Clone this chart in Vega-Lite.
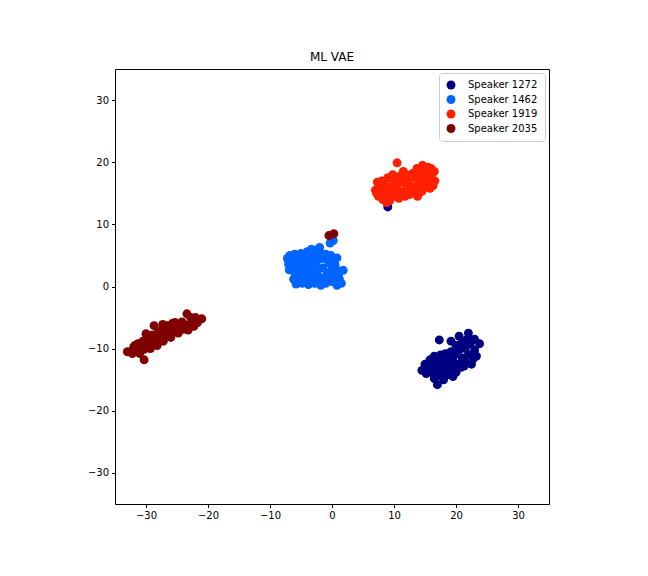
{
  "$schema": "https://vega.github.io/schema/vega-lite/v6.json",
  "autosize": "none",
  "padding": {"top": 69, "left": 115, "right": 99, "bottom": 72},
  "width": 434,
  "height": 435,
  "title": {"text": "ML VAE", "fontSize": 12, "fontWeight": "normal", "font": "DejaVu Sans", "color": "black", "offset": 5},
  "config": {
    "view": {"stroke": "black", "strokeWidth": 1},
    "axis": {"grid": false, "domain": false, "tickColor": "black", "tickSize": 3.5, "labelFont": "DejaVu Sans", "labelFontSize": 10, "labelColor": "black", "labelPadding": 3, "title": null},
    "legend": {"labelFont": "DejaVu Sans", "labelFontSize": 10, "labelColor": "black"},
    "font": "DejaVu Sans"
  },
  "data": {"values": [
    {"s":"Speaker 1272","x":14.5,"y":-13.5},{"s":"Speaker 1272","x":15,"y":-12.5},{"s":"Speaker 1272","x":15.2,"y":-14},{"s":"Speaker 1272","x":15.5,"y":-13},{"s":"Speaker 1272","x":15.8,"y":-11.8},{"s":"Speaker 1272","x":16,"y":-13.8},{"s":"Speaker 1272","x":16.2,"y":-12.5},{"s":"Speaker 1272","x":16.5,"y":-14.8},{"s":"Speaker 1272","x":16.5,"y":-11.2},{"s":"Speaker 1272","x":16.8,"y":-13.2},{"s":"Speaker 1272","x":17,"y":-15.8},{"s":"Speaker 1272","x":17,"y":-12},{"s":"Speaker 1272","x":17.3,"y":-8.6},{"s":"Speaker 1272","x":17.3,"y":-14.2},{"s":"Speaker 1272","x":17.5,"y":-11},{"s":"Speaker 1272","x":17.8,"y":-13},{"s":"Speaker 1272","x":18,"y":-15},{"s":"Speaker 1272","x":18,"y":-12.2},{"s":"Speaker 1272","x":18.3,"y":-10.8},{"s":"Speaker 1272","x":18.5,"y":-14.2},{"s":"Speaker 1272","x":18.5,"y":-12.8},{"s":"Speaker 1272","x":18.8,"y":-11.5},{"s":"Speaker 1272","x":19,"y":-13.5},{"s":"Speaker 1272","x":19.2,"y":-10.5},{"s":"Speaker 1272","x":19.2,"y":-8.8},{"s":"Speaker 1272","x":19.5,"y":-14.5},{"s":"Speaker 1272","x":19.5,"y":-12},{"s":"Speaker 1272","x":19.8,"y":-11},{"s":"Speaker 1272","x":20,"y":-13.8},{"s":"Speaker 1272","x":20,"y":-9.5},{"s":"Speaker 1272","x":20.3,"y":-12.5},{"s":"Speaker 1272","x":20.5,"y":-8},{"s":"Speaker 1272","x":20.5,"y":-10.2},{"s":"Speaker 1272","x":20.8,"y":-13},{"s":"Speaker 1272","x":21,"y":-11.5},{"s":"Speaker 1272","x":21,"y":-9},{"s":"Speaker 1272","x":21.5,"y":-12.2},{"s":"Speaker 1272","x":21.5,"y":-10},{"s":"Speaker 1272","x":21.8,"y":-8.5},{"s":"Speaker 1272","x":22,"y":-7.5},{"s":"Speaker 1272","x":22,"y":-11},{"s":"Speaker 1272","x":22.3,"y":-9.2},{"s":"Speaker 1272","x":22.5,"y":-12.5},{"s":"Speaker 1272","x":23,"y":-10.2},{"s":"Speaker 1272","x":23,"y":-8.5},{"s":"Speaker 1272","x":23.3,"y":-11.2},{"s":"Speaker 1272","x":23.8,"y":-9.2},{"s":"Speaker 1272","x":16,"y":-12},{"s":"Speaker 1272","x":18.2,"y":-13.5},{"s":"Speaker 1272","x":19.8,"y":-13},{"s":"Speaker 1272","x":17.5,"y":-12.8},{"s":"Speaker 1272","x":16.8,"y":-14.5},{"s":"Speaker 1272","x":21.3,"y":-12.8},{"s":"Speaker 1272","x":22.8,"y":-11.6},{"s":"Speaker 1272","x":9,"y":12.8},
    {"s":"Speaker 1462","x":-7.2,"y":4.5},{"s":"Speaker 1462","x":-7,"y":3.6},{"s":"Speaker 1462","x":-6.8,"y":5},{"s":"Speaker 1462","x":-6.5,"y":4.2},{"s":"Speaker 1462","x":-6.3,"y":3},{"s":"Speaker 1462","x":-6,"y":5.2},{"s":"Speaker 1462","x":-6,"y":2.2},{"s":"Speaker 1462","x":-5.8,"y":3.8},{"s":"Speaker 1462","x":-5.5,"y":1.5},{"s":"Speaker 1462","x":-5.5,"y":4.6},{"s":"Speaker 1462","x":-5.8,"y":0.4},{"s":"Speaker 1462","x":-5.2,"y":2.8},{"s":"Speaker 1462","x":-5,"y":5.3},{"s":"Speaker 1462","x":-5,"y":0.7},{"s":"Speaker 1462","x":-4.8,"y":3.5},{"s":"Speaker 1462","x":-4.5,"y":2},{"s":"Speaker 1462","x":-4.5,"y":4.8},{"s":"Speaker 1462","x":-4.2,"y":1},{"s":"Speaker 1462","x":-4,"y":3},{"s":"Speaker 1462","x":-4,"y":5.6},{"s":"Speaker 1462","x":-3.8,"y":0.3},{"s":"Speaker 1462","x":-3.5,"y":4.2},{"s":"Speaker 1462","x":-3.5,"y":2.2},{"s":"Speaker 1462","x":-3.2,"y":1.2},{"s":"Speaker 1462","x":-3,"y":5},{"s":"Speaker 1462","x":-3,"y":3.2},{"s":"Speaker 1462","x":-2.8,"y":0.5},{"s":"Speaker 1462","x":-2.5,"y":4},{"s":"Speaker 1462","x":-2.5,"y":5.8},{"s":"Speaker 1462","x":-2.2,"y":2.8},{"s":"Speaker 1462","x":-2,"y":1.5},{"s":"Speaker 1462","x":-2,"y":6.3},{"s":"Speaker 1462","x":-1.8,"y":0.2},{"s":"Speaker 1462","x":-1.5,"y":4.5},{"s":"Speaker 1462","x":-1.5,"y":3},{"s":"Speaker 1462","x":-1.2,"y":1.2},{"s":"Speaker 1462","x":-1,"y":5.2},{"s":"Speaker 1462","x":-1,"y":0.5},{"s":"Speaker 1462","x":-0.8,"y":2.2},{"s":"Speaker 1462","x":-0.5,"y":3.8},{"s":"Speaker 1462","x":-0.5,"y":1.5},{"s":"Speaker 1462","x":-0.3,"y":7},{"s":"Speaker 1462","x":0,"y":4.5},{"s":"Speaker 1462","x":0,"y":2.8},{"s":"Speaker 1462","x":0,"y":0.8},{"s":"Speaker 1462","x":0.3,"y":1.8},{"s":"Speaker 1462","x":0.5,"y":3.5},{"s":"Speaker 1462","x":0.8,"y":0.2},{"s":"Speaker 1462","x":1,"y":2.5},{"s":"Speaker 1462","x":1.2,"y":1.2},{"s":"Speaker 1462","x":1.5,"y":0.5},{"s":"Speaker 1462","x":1.8,"y":2.6},{"s":"Speaker 1462","x":-6.2,"y":1.2},{"s":"Speaker 1462","x":-4.8,"y":0.5},{"s":"Speaker 1462","x":-3.3,"y":6},{"s":"Speaker 1462","x":-2.8,"y":2},{"s":"Speaker 1462","x":-1.7,"y":5.3},{"s":"Speaker 1462","x":-0.2,"y":5},{"s":"Speaker 1462","x":0.8,"y":4.6},{"s":"Speaker 1462","x":1,"y":1.8},{"s":"Speaker 1462","x":0.2,"y":7.4},{"s":"Speaker 1462","x":-6.9,"y":2.7},{"s":"Speaker 1462","x":-3.7,"y":3.8},{"s":"Speaker 1462","x":-2.3,"y":4.8},{"s":"Speaker 1462","x":-5.3,"y":3.2},{"s":"Speaker 1462","x":-4.3,"y":4},
    {"s":"Speaker 1919","x":7,"y":15.5},{"s":"Speaker 1919","x":7.3,"y":16.8},{"s":"Speaker 1919","x":7.5,"y":14.5},{"s":"Speaker 1919","x":7.8,"y":15.8},{"s":"Speaker 1919","x":8,"y":17},{"s":"Speaker 1919","x":8.2,"y":14},{"s":"Speaker 1919","x":8.5,"y":15.2},{"s":"Speaker 1919","x":8.5,"y":16.5},{"s":"Speaker 1919","x":8.8,"y":13.5},{"s":"Speaker 1919","x":9,"y":17.5},{"s":"Speaker 1919","x":9.2,"y":14.8},{"s":"Speaker 1919","x":9.5,"y":16},{"s":"Speaker 1919","x":9.8,"y":18},{"s":"Speaker 1919","x":10,"y":14.5},{"s":"Speaker 1919","x":10,"y":17},{"s":"Speaker 1919","x":10.3,"y":15.5},{"s":"Speaker 1919","x":10.5,"y":19.9},{"s":"Speaker 1919","x":10.6,"y":16.4},{"s":"Speaker 1919","x":10.8,"y":14.2},{"s":"Speaker 1919","x":11,"y":17.8},{"s":"Speaker 1919","x":11.2,"y":15.2},{"s":"Speaker 1919","x":11.5,"y":16.8},{"s":"Speaker 1919","x":11.8,"y":14.5},{"s":"Speaker 1919","x":12,"y":18},{"s":"Speaker 1919","x":12,"y":15.8},{"s":"Speaker 1919","x":12.3,"y":17},{"s":"Speaker 1919","x":12.5,"y":14.8},{"s":"Speaker 1919","x":12.8,"y":16.2},{"s":"Speaker 1919","x":13,"y":18.2},{"s":"Speaker 1919","x":13.2,"y":15.5},{"s":"Speaker 1919","x":13.5,"y":17.5},{"s":"Speaker 1919","x":13.8,"y":14.5},{"s":"Speaker 1919","x":14,"y":16.5},{"s":"Speaker 1919","x":14.2,"y":18.5},{"s":"Speaker 1919","x":14.5,"y":15.3},{"s":"Speaker 1919","x":14.6,"y":19.5},{"s":"Speaker 1919","x":14.8,"y":17.2},{"s":"Speaker 1919","x":15,"y":16},{"s":"Speaker 1919","x":15.2,"y":18.3},{"s":"Speaker 1919","x":15.5,"y":19.2},{"s":"Speaker 1919","x":15.5,"y":16.8},{"s":"Speaker 1919","x":15.8,"y":15.8},{"s":"Speaker 1919","x":16,"y":17.8},{"s":"Speaker 1919","x":16.3,"y":16.2},{"s":"Speaker 1919","x":16.5,"y":18.5},{"s":"Speaker 1919","x":16.6,"y":17},{"s":"Speaker 1919","x":7.2,"y":15},{"s":"Speaker 1919","x":9.3,"y":13.8},{"s":"Speaker 1919","x":11.5,"y":18.5},{"s":"Speaker 1919","x":13.7,"y":19},{"s":"Speaker 1919","x":10.2,"y":16},{"s":"Speaker 1919","x":12.7,"y":15.3},{"s":"Speaker 1919","x":14.3,"y":17.8},{"s":"Speaker 1919","x":8.3,"y":15.7},{"s":"Speaker 1919","x":15.3,"y":17.5},{"s":"Speaker 1919","x":16,"y":19},
    {"s":"Speaker 2035","x":-33,"y":-10.5},{"s":"Speaker 2035","x":-32.2,"y":-10.8},{"s":"Speaker 2035","x":-32,"y":-9.8},{"s":"Speaker 2035","x":-31.5,"y":-10.2},{"s":"Speaker 2035","x":-31.3,"y":-9.2},{"s":"Speaker 2035","x":-31,"y":-10.8},{"s":"Speaker 2035","x":-30.8,"y":-9.6},{"s":"Speaker 2035","x":-30.5,"y":-8.8},{"s":"Speaker 2035","x":-30.3,"y":-10.1},{"s":"Speaker 2035","x":-30.3,"y":-11.8},{"s":"Speaker 2035","x":-30,"y":-7.6},{"s":"Speaker 2035","x":-29.8,"y":-9.2},{"s":"Speaker 2035","x":-29.5,"y":-8.4},{"s":"Speaker 2035","x":-29.3,"y":-10},{"s":"Speaker 2035","x":-29,"y":-7.8},{"s":"Speaker 2035","x":-28.8,"y":-9},{"s":"Speaker 2035","x":-28.5,"y":-8.2},{"s":"Speaker 2035","x":-28.2,"y":-9.5},{"s":"Speaker 2035","x":-28,"y":-7.2},{"s":"Speaker 2035","x":-27.8,"y":-8.6},{"s":"Speaker 2035","x":-27.5,"y":-7.6},{"s":"Speaker 2035","x":-27.2,"y":-8.8},{"s":"Speaker 2035","x":-27,"y":-6.8},{"s":"Speaker 2035","x":-26.8,"y":-7.9},{"s":"Speaker 2035","x":-26.5,"y":-6.3},{"s":"Speaker 2035","x":-26.3,"y":-7.4},{"s":"Speaker 2035","x":-26,"y":-8.2},{"s":"Speaker 2035","x":-25.8,"y":-6.6},{"s":"Speaker 2035","x":-25.5,"y":-7.2},{"s":"Speaker 2035","x":-25.3,"y":-5.8},{"s":"Speaker 2035","x":-25,"y":-6.8},{"s":"Speaker 2035","x":-24.8,"y":-7.5},{"s":"Speaker 2035","x":-24.5,"y":-6.2},{"s":"Speaker 2035","x":-24.2,"y":-5.7},{"s":"Speaker 2035","x":-24,"y":-6.9},{"s":"Speaker 2035","x":-23.7,"y":-6.2},{"s":"Speaker 2035","x":-23.4,"y":-4.4},{"s":"Speaker 2035","x":-23.2,"y":-7},{"s":"Speaker 2035","x":-23,"y":-6.2},{"s":"Speaker 2035","x":-22.8,"y":-5},{"s":"Speaker 2035","x":-22.5,"y":-5.6},{"s":"Speaker 2035","x":-22.3,"y":-6.4},{"s":"Speaker 2035","x":-22,"y":-5},{"s":"Speaker 2035","x":-21.7,"y":-5.8},{"s":"Speaker 2035","x":-21,"y":-5.2},{"s":"Speaker 2035","x":-28.7,"y":-6.3},{"s":"Speaker 2035","x":-27.3,"y":-6.1},{"s":"Speaker 2035","x":-29.8,"y":-8.1},{"s":"Speaker 2035","x":-31.8,"y":-9.5},{"s":"Speaker 2035","x":-30.9,"y":-10.3},{"s":"Speaker 2035","x":-28.3,"y":-8.9},{"s":"Speaker 2035","x":-26.2,"y":-7.0},{"s":"Speaker 2035","x":-25.1,"y":-6.2},{"s":"Speaker 2035","x":-24.1,"y":-5.9},{"s":"Speaker 2035","x":-29.2,"y":-9.3},{"s":"Speaker 2035","x":-27.6,"y":-7.1},{"s":"Speaker 2035","x":-25.7,"y":-5.9},{"s":"Speaker 2035","x":-23.9,"y":-6.4},{"s":"Speaker 2035","x":-0.5,"y":8.2},{"s":"Speaker 2035","x":0.3,"y":8.5}
  ]},
  "mark": {"type": "point", "filled": true, "size": 80, "opacity": 1, "strokeWidth": 0},
  "encoding": {
    "x": {"field": "x", "type": "quantitative", "scale": {"domain": [-35, 35], "nice": false, "zero": false}, "axis": {"values": [-30, -20, -10, 0, 10, 20, 30]}},
    "y": {"field": "y", "type": "quantitative", "scale": {"domain": [-35, 35], "nice": false, "zero": false}, "axis": {"values": [-30, -20, -10, 0, 10, 20, 30]}},
    "color": {
      "field": "s", "type": "nominal",
      "scale": {"domain": ["Speaker 1272", "Speaker 1462", "Speaker 1919", "Speaker 2035"], "range": ["#000080", "#0064ff", "#ff2000", "#800000"]},
      "legend": {"title": null, "orient": "top-right", "offset": 4, "strokeColor": "#cccccc", "fillColor": "white", "cornerRadius": 3, "padding": 7, "symbolSize": 80, "symbolType": "circle", "rowPadding": 4.5, "labelOffset": 12, "symbolStrokeWidth": 0}
    }
  }
}
